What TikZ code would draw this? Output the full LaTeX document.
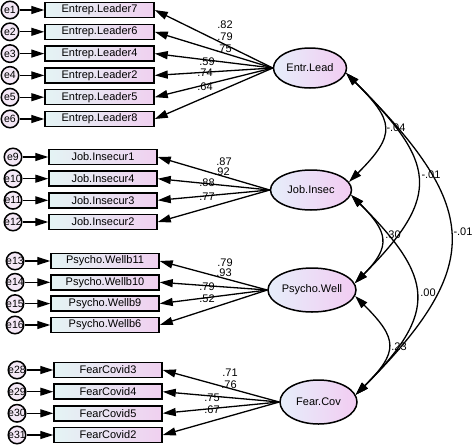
\documentclass[tikz,border=0pt]{standalone}
\usepackage{fontspec}
\setmainfont{Liberation Sans}
\usetikzlibrary{arrows.meta,shapes.geometric}
\definecolor{boxL}{RGB}{228,244,244}
\definecolor{boxR}{RGB}{240,208,240}
\definecolor{latL}{RGB}{230,238,250}
\definecolor{latR}{RGB}{242,204,242}
\definecolor{errF}{RGB}{244,232,246}
\begin{document}
\begin{tikzpicture}[x=1pt,y=-1pt,
  obs/.style={draw, line width=1.5pt, minimum width=108pt, minimum height=15pt, inner sep=0pt,
    left color=boxL, right color=boxR, font=\fontsize{11}{12}\selectfont},
  lat/.style={ellipse, draw, line width=1.5pt, inner sep=0pt, left color=latL, right color=latR,
    font=\fontsize{11}{12}\selectfont},
  err/.style={circle, draw, line width=1.5pt, minimum size=17.5pt, inner sep=0pt, fill=errF,
    font=\fontsize{10.5}{12}\selectfont},
  arr/.style={line width=1.3pt, -{Triangle[length=13pt,width=8pt]}},
  cov/.style={line width=1.3pt, {Triangle[length=13pt,width=8pt]}-{Triangle[length=13pt,width=8pt]}},
  lab/.style={font=\fontsize{11}{12}\selectfont, inner sep=0pt}
]
\useasboundingbox[fill=white] (0,0) rectangle (474,445);

% latent variables
\node[lat, minimum width=73pt, minimum height=40pt] (EL) at (310,68) {Entr.Lead};
\node[lat, minimum width=81pt, minimum height=40pt] (JI) at (311,190) {Job.Insec};
\node[lat, minimum width=88pt, minimum height=44pt] (PW) at (312,290) {Psycho.Well};
\node[lat, minimum width=77pt, minimum height=44pt] (FC) at (318.5,402) {Fear.Cov};

% Entrepreneurial leadership
\foreach \i/\y/\t in {1/10/7, 2/31.8/6, 3/53.6/4, 4/75.4/2, 5/97.2/5, 6/119/8} {
  \node[obs, minimum width=109pt] (EL\i) at (99.5,\y) {Entrep.Leader\t};
  \node[err] (e\i) at (10,\y) {\makebox[0pt]{e\i}};
  \draw[arr] (e\i) -- (EL\i);
  \draw[arr] (EL.west) -- (EL\i.east);
}
% Job insecurity
\foreach \i/\y/\t in {9/157/1, 10/178.7/4, 11/200.3/3, 12/222/2} {
  \node[obs] (JI\i) at (103,\y) {Job.Insecur\t};
  \node[err] (e\i) at (13,\y) {\makebox[0pt]{e\i}};
  \draw[arr] (e\i) -- (JI\i);
  \draw[arr] (JI.west) -- (JI\i.east);
}
% Psychological wellbeing
\foreach \i/\y/\t in {13/261/11, 14/282.3/10, 15/303.6/9, 16/325/6} {
  \node[obs] (PW\i) at (105,\y) {Psycho.Wellb\t};
  \node[err] (e\i) at (15,\y) {\makebox[0pt]{e\i}};
  \draw[arr] (e\i) -- (PW\i);
  \draw[arr] (PW.west) -- (PW\i.east);
}
% Fear of Covid
\foreach \i/\y/\t in {28/370/3, 29/391.7/4, 30/413.3/5, 31/435/2} {
  \node[obs] (FC\i) at (108,\y) {FearCovid\t};
  \node[err] (e\i) at (17,\y) {\makebox[0pt]{e\i}};
  \draw[arr] (e\i) -- (FC\i);
  \draw[arr] (FC.west) -- (FC\i.east);
}

% loading labels
\foreach \n/\x/\y/\v in {l1/225/25/.82, l2/225/37/.79, l3/224/49/.75, l4/207/62/.59, l5/205/73/.74, l6/205/87/.64,
  l9/224/162/.87, l10/222/172/.92, l11/207/183/.88, l12/207/197/.77,
  l13/225/263/.79, l14/224/273/.93, l15/207/287/.79, l16/207/299/.52,
  l28/230/373/.71, l29/229/385/.76, l30/212/398/.75, l31/212/410/.67} {
  \node[lab] (\n) at (\x,\y) {\v};
}

% covariances
\draw[cov] (EL.-8) .. controls +(48,48) and +(48,-48) .. (JI.12);
\draw[cov] (EL.-8) .. controls +(89,89) and +(89,-89) .. (PW.9.5);
\draw[cov] (EL.-8) .. controls +(132,132) and +(132,-132) .. (FC.11);
\draw[cov] (JI.-7) .. controls +(37,37) and +(37,-37) .. (PW.9.5);
\draw[cov] (JI.-7) .. controls +(83,83) and +(83,-83) .. (FC.11);
\draw[cov] (PW.-8) .. controls +(43,43) and +(43,-43) .. (FC.11);

\node[lab] (c1) at (396,128) {-.04};
\node[lab] (c2) at (431,175) {-.01};
\node[lab] (c3) at (463,232) {-.01};
\node[lab] (c4) at (393,235) {.30};
\node[lab] (c5) at (428,293) {.00};
\node[lab] (c6) at (399,347) {.23};
\end{tikzpicture}
\end{document}
